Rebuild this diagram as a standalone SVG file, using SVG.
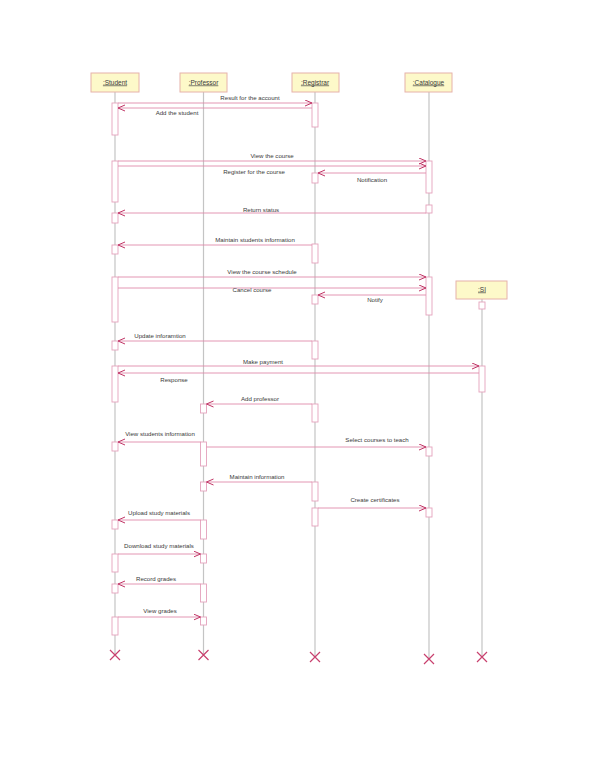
<svg xmlns="http://www.w3.org/2000/svg" width="600" height="776" viewBox="0 0 600 776">
<style>
.hdr{fill:#fdf9c9;stroke:#e6b2aa;stroke-width:1}
.hl{font-family:"Liberation Sans",Arial,sans-serif;font-size:6.5px;fill:#3a3a3a;text-anchor:middle;text-decoration:underline}
.life{stroke:#c4c4c4;stroke-width:1.2}
.act{fill:#fff;stroke:#e4a2bc;stroke-width:0.9}
.msg{stroke:#e08aaa;stroke-width:0.9;fill:none;marker-end:url(#ah)}
.lbl{font-family:"Liberation Sans",Arial,sans-serif;font-size:6.1px;fill:#3a3a3a;text-anchor:middle}
.x{stroke:#c8406e;stroke-width:1.2}
</style>
<defs>
<marker id="ah" markerWidth="10" markerHeight="8" refX="7" refY="3.5" orient="auto" markerUnits="userSpaceOnUse">
<path d="M0,0.5 L7,3.5 L0,6.5" fill="none" stroke="#c03566" stroke-width="1"/>
</marker>
</defs>
<rect width="600" height="776" fill="#fff"/>

<g id="lifelines">
<line class="life" x1="115" y1="92" x2="115" y2="655"/>
<line class="life" x1="203.5" y1="92" x2="203.5" y2="655"/>
<line class="life" x1="315" y1="92" x2="315" y2="657"/>
<line class="life" x1="429" y1="92" x2="429" y2="659"/>
<line class="life" x1="482" y1="299" x2="482" y2="657"/>
</g>

<g id="student">
<rect class="hdr" x="91" y="73" width="48" height="19"/>
<text class="hl" x="115" y="84.5">:Student</text>
<rect class="act" x="112" y="103" width="6" height="32"/>
<rect class="act" x="112" y="161" width="6" height="41"/>
<rect class="act" x="112" y="213" width="6" height="10"/>
<rect class="act" x="112" y="245" width="6" height="9"/>
<rect class="act" x="112" y="277" width="6" height="45"/>
<rect class="act" x="112" y="341" width="6" height="9"/>
<rect class="act" x="112" y="366" width="6" height="36"/>
<rect class="act" x="112" y="442" width="6" height="9"/>
<rect class="act" x="112" y="520" width="6" height="9"/>
<rect class="act" x="112" y="554" width="6" height="18"/>
<rect class="act" x="112" y="584" width="6" height="9"/>
<rect class="act" x="112" y="617" width="6" height="18"/>
<path class="x" d="M110,650 L120,660 M120,650 L110,660"/>
</g>

<g id="professor">
<rect class="hdr" x="180" y="73" width="47" height="19"/>
<text class="hl" x="203.5" y="84.5">:Professor</text>
<rect class="act" x="200.5" y="404" width="6" height="9"/>
<rect class="act" x="200.5" y="442" width="6" height="24"/>
<rect class="act" x="200.5" y="482" width="6" height="9"/>
<rect class="act" x="200.5" y="520" width="6" height="19"/>
<rect class="act" x="200.5" y="554" width="6" height="9"/>
<rect class="act" x="200.5" y="584" width="6" height="18"/>
<rect class="act" x="200.5" y="617" width="6" height="8"/>
<path class="x" d="M198.5,650 L208.5,660 M208.5,650 L198.5,660"/>
</g>

<g id="registrar">
<rect class="hdr" x="292" y="73" width="47" height="19"/>
<text class="hl" x="315" y="84.5">:Registrar</text>
<rect class="act" x="312" y="103" width="6" height="24"/>
<rect class="act" x="312" y="173" width="6" height="10"/>
<rect class="act" x="312" y="244" width="6" height="19"/>
<rect class="act" x="312" y="295" width="6" height="9"/>
<rect class="act" x="312" y="341" width="6" height="18"/>
<rect class="act" x="312" y="404" width="6" height="18"/>
<rect class="act" x="312" y="482" width="6" height="19"/>
<rect class="act" x="312" y="508" width="6" height="18"/>
<path class="x" d="M310,652 L320,662 M320,652 L310,662"/>
</g>

<g id="catalogue">
<rect class="hdr" x="405" y="73" width="47" height="19"/>
<text class="hl" x="428.5" y="84.5">:Catalogue</text>
<rect class="act" x="426" y="161" width="6" height="32"/>
<rect class="act" x="426" y="205" width="6" height="8"/>
<rect class="act" x="426" y="277" width="6" height="38"/>
<rect class="act" x="426" y="447" width="6" height="9"/>
<rect class="act" x="426" y="508" width="6" height="9"/>
<path class="x" d="M424,654 L434,664 M434,654 L424,664"/>
</g>

<g id="si">
<rect class="hdr" x="456" y="281" width="51" height="18"/>
<text class="hl" x="482" y="291.5">:SI</text>
<rect class="act" x="479" y="302" width="6" height="7"/>
<rect class="act" x="479" y="366" width="6" height="26"/>
<path class="x" d="M477,652 L487,662 M487,652 L477,662"/>
</g>

<g id="connectors">
<line class="msg" x1="118" y1="103" x2="312" y2="103"/>
<line class="msg" x1="312" y1="108" x2="118" y2="108"/>
<line class="msg" x1="118" y1="161" x2="426" y2="161"/>
<line class="msg" x1="118" y1="166" x2="426" y2="166"/>
<line class="msg" x1="426" y1="173" x2="318" y2="173"/>
<line class="msg" x1="426" y1="213" x2="118" y2="213"/>
<line class="msg" x1="312" y1="245" x2="118" y2="245"/>
<line class="msg" x1="118" y1="277" x2="426" y2="277"/>
<line class="msg" x1="118" y1="288" x2="426" y2="288"/>
<line class="msg" x1="426" y1="295" x2="318" y2="295"/>
<line class="msg" x1="312" y1="341" x2="118" y2="341"/>
<line class="msg" x1="118" y1="366" x2="479" y2="366"/>
<line class="msg" x1="479" y1="373" x2="118" y2="373"/>
<line class="msg" x1="312" y1="404" x2="206.5" y2="404"/>
<line class="msg" x1="200.5" y1="442" x2="118" y2="442"/>
<line class="msg" x1="206.5" y1="447" x2="426" y2="447"/>
<line class="msg" x1="312" y1="482" x2="206.5" y2="482"/>
<line class="msg" x1="318" y1="508" x2="426" y2="508"/>
<line class="msg" x1="200.5" y1="520" x2="118" y2="520"/>
<line class="msg" x1="118" y1="554" x2="200.5" y2="554"/>
<line class="msg" x1="200.5" y1="584" x2="118" y2="584"/>
<line class="msg" x1="118" y1="617" x2="200.5" y2="617"/>
</g>

<g id="labels">
<text class="lbl" x="250" y="100">Result for the account</text>
<text class="lbl" x="177" y="115">Add the student</text>
<text class="lbl" x="272" y="158">View the course</text>
<text class="lbl" x="254" y="174">Register for the course</text>
<text class="lbl" x="372" y="182">Notification</text>
<text class="lbl" x="261" y="212">Return status</text>
<text class="lbl" x="255" y="242">Maintain students information</text>
<text class="lbl" x="262" y="274">View the course schedule</text>
<text class="lbl" x="252" y="292">Cancel course</text>
<text class="lbl" x="375" y="302">Notify</text>
<text class="lbl" x="160" y="338">Update inforamtion</text>
<text class="lbl" x="263" y="364">Make payment</text>
<text class="lbl" x="174" y="382">Response</text>
<text class="lbl" x="260" y="401">Add professor</text>
<text class="lbl" x="160" y="436">View students information</text>
<text class="lbl" x="377" y="442">Select courses to teach</text>
<text class="lbl" x="257" y="479">Maintain information</text>
<text class="lbl" x="375" y="502">Create certificates</text>
<text class="lbl" x="159" y="515">Upload study materials</text>
<text class="lbl" x="159" y="548">Download study materials</text>
<text class="lbl" x="156" y="581">Record grades</text>
<text class="lbl" x="160" y="613">View grades</text>
</g>
</svg>
